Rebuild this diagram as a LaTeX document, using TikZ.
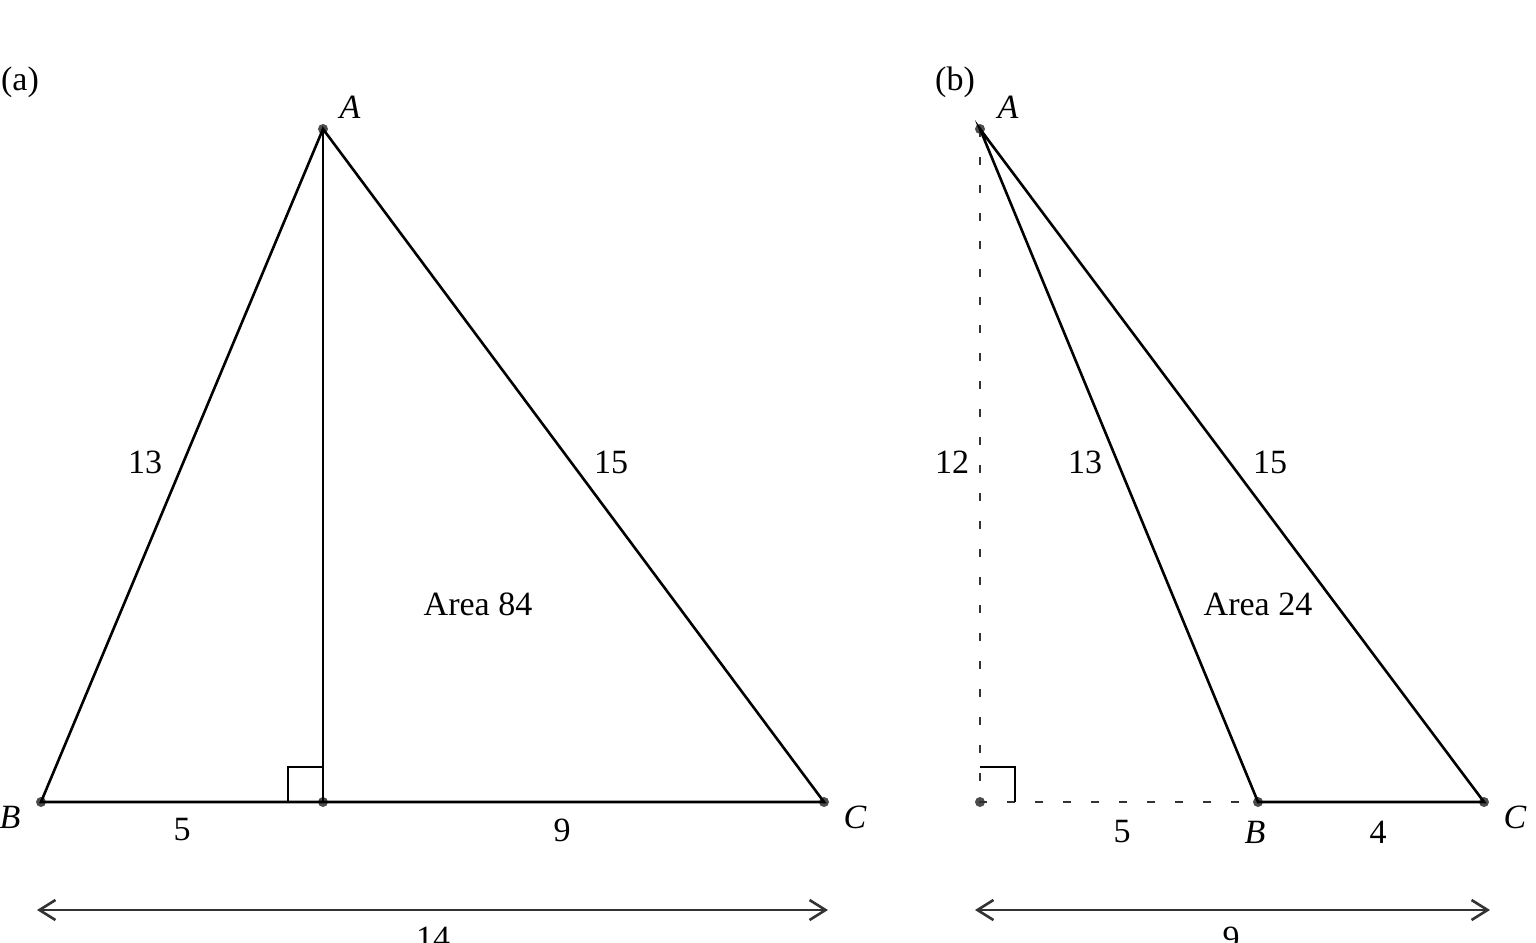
\documentclass[tikz,border=0pt]{standalone}
\usepackage{fontspec}
\setmainfont{Liberation Serif}
\usetikzlibrary{arrows.meta}
\begin{document}
\begin{tikzpicture}[x=0.5pt,y=-0.5pt,
  edge/.style={line width=1.3pt,black},
  thin dash/.style={line width=0.6pt,black!80,dash pattern=on 4pt off 10pt},
  vdot/.style={circle,fill=black!70,inner sep=0pt,minimum size=5pt},
  lbl/.style={font=\fontsize{17}{20}\selectfont,inner sep=0pt},
  ilbl/.style={font=\fontsize{17}{20}\selectfont\itshape,inner sep=0pt},
  dimarrow/.style={line width=1.3pt,black!80,{Straight Barb[length=8pt,width=10pt,line width=1.3pt]}-{Straight Barb[length=8pt,width=10pt,line width=1.3pt]}}]
\useasboundingbox (0,0) rectangle (1536,942);
% ---------- (a)
\node[vdot] (Aa) at (323,129) {};
\node[vdot] (Ba) at (41,802) {};
\node[vdot] (Ca) at (824,802) {};
\node[vdot] (Da) at (323,802) {};
\draw[edge] (Ba.center) -- (Aa.center) -- (Ca.center) -- cycle;
\draw[edge] (Aa.center) -- (Da.center);
\draw[line width=1.1pt] (Da.center) ++(-35,0) |- ++(35,-35);
\node[lbl] (pa) at (20,82) {(a)};
\node[ilbl] (lAa) at (350,107) {A};
\node[ilbl] (lBa) at (10,817) {B};
\node[ilbl] (lCa) at (855,817) {C};
\node[lbl] (s13a) at (145,462) {13};
\node[lbl] (s15a) at (611,462) {15};
\node[lbl] (area84) at (478,604) {Area 84};
\node[lbl] (s5a) at (182,830) {5};
\node[lbl] (s9a) at (562,830) {9};
\coordinate (La) at (37,910);
\coordinate (Ra) at (828,910);
\draw[dimarrow] (La) -- (Ra);
\node[lbl] (s14) at (433,938) {14};
% ---------- (b)
\node[vdot] (Ab) at (980,129) {};
\node[vdot] (Db) at (980,802) {};
\node[vdot] (Bb) at (1258,802) {};
\node[vdot] (Cb) at (1484,802) {};
\draw[thin dash] (Ab.center) -- (Db.center) -- (Bb.center);
\draw[edge] (Ab.center) -- (Bb.center) -- (Cb.center) -- cycle;
\draw[line width=1.1pt] (Db.center) ++(0,-35) -| ++(35,35);
\node[lbl] (pb) at (955,82) {(b)};
\node[ilbl] (lAb) at (1008,107) {A};
\node[ilbl] (lBb) at (1255,832) {B};
\node[ilbl] (lCb) at (1515,817) {C};
\node[lbl] (s12) at (952,462) {12};
\node[lbl] (s13b) at (1085,462) {13};
\node[lbl] (s15b) at (1270,462) {15};
\node[lbl] (area24) at (1258,604) {Area 24};
\node[lbl] (s5b) at (1122,832) {5};
\node[lbl] (s4b) at (1378,832) {4};
\coordinate (Lb) at (975,910);
\coordinate (Rb) at (1490,910);
\draw[dimarrow] (Lb) -- (Rb);
\node[lbl] (s9b) at (1231,938) {9};
\end{tikzpicture}
\end{document}
